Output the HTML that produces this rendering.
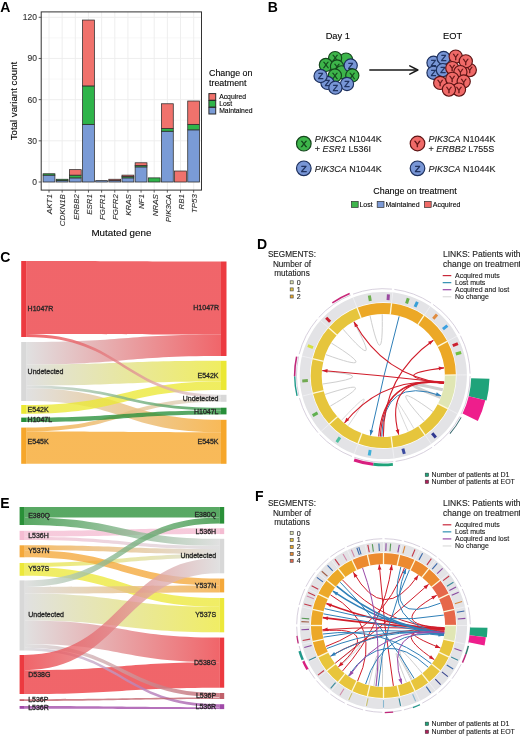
<!DOCTYPE html>
<html><head><meta charset="utf-8"><title>Figure</title>
<style>html,body{margin:0;padding:0;background:#fff;}svg{display:block;}</style></head><body>
<svg width="520" height="736" viewBox="0 0 520 736" font-family="'Liberation Sans', Arial, sans-serif">
<rect width="520" height="736" fill="#fff"/>
<text x="0.3" y="11.9" font-size="14" fill="#000" font-weight="bold">A</text>
<text x="267.8" y="11.9" font-size="14" fill="#000" font-weight="bold">B</text>
<text x="0.2" y="262.3" font-size="14" fill="#000" font-weight="bold">C</text>
<text x="257" y="248.5" font-size="14" fill="#000" font-weight="bold">D</text>
<text x="0.2" y="507.6" font-size="14" fill="#000" font-weight="bold">E</text>
<text x="255" y="500.8" font-size="14" fill="#000" font-weight="bold">F</text>
<g stroke="#ececec" fill="none">
<line x1="41.2" x2="201.5" y1="161.41" y2="161.41" stroke-width="0.45"/>
<line x1="41.2" x2="201.5" y1="120.24" y2="120.24" stroke-width="0.45"/>
<line x1="41.2" x2="201.5" y1="79.06" y2="79.06" stroke-width="0.45"/>
<line x1="41.2" x2="201.5" y1="37.89" y2="37.89" stroke-width="0.45"/>
<line x1="41.2" x2="201.5" y1="182" y2="182" stroke-width="0.9"/>
<line x1="41.2" x2="201.5" y1="140.82" y2="140.82" stroke-width="0.9"/>
<line x1="41.2" x2="201.5" y1="99.65" y2="99.65" stroke-width="0.9"/>
<line x1="41.2" x2="201.5" y1="58.47" y2="58.47" stroke-width="0.9"/>
<line x1="41.2" x2="201.5" y1="17.3" y2="17.3" stroke-width="0.9"/>
<line x1="49" x2="49" y1="11.9" y2="190.1" stroke-width="0.9"/>
<line x1="62.15" x2="62.15" y1="11.9" y2="190.1" stroke-width="0.9"/>
<line x1="75.3" x2="75.3" y1="11.9" y2="190.1" stroke-width="0.9"/>
<line x1="88.45" x2="88.45" y1="11.9" y2="190.1" stroke-width="0.9"/>
<line x1="101.6" x2="101.6" y1="11.9" y2="190.1" stroke-width="0.9"/>
<line x1="114.75" x2="114.75" y1="11.9" y2="190.1" stroke-width="0.9"/>
<line x1="127.9" x2="127.9" y1="11.9" y2="190.1" stroke-width="0.9"/>
<line x1="141.05" x2="141.05" y1="11.9" y2="190.1" stroke-width="0.9"/>
<line x1="154.2" x2="154.2" y1="11.9" y2="190.1" stroke-width="0.9"/>
<line x1="167.35" x2="167.35" y1="11.9" y2="190.1" stroke-width="0.9"/>
<line x1="180.5" x2="180.5" y1="11.9" y2="190.1" stroke-width="0.9"/>
<line x1="193.65" x2="193.65" y1="11.9" y2="190.1" stroke-width="0.9"/>
</g>
<g stroke="#2b2b2b" stroke-width="0.75">
<rect x="43.08" y="175.14" width="11.84" height="6.86" fill="#7a9bd6"/>
<rect x="43.08" y="173.76" width="11.84" height="1.37" fill="#2fb44a"/>
<rect x="56.23" y="180.63" width="11.84" height="1.37" fill="#7a9bd6"/>
<rect x="56.23" y="179.25" width="11.84" height="1.37" fill="#2fb44a"/>
<rect x="69.38" y="177.88" width="11.84" height="4.12" fill="#7a9bd6"/>
<rect x="69.38" y="175.14" width="11.84" height="2.75" fill="#2fb44a"/>
<rect x="69.38" y="169.65" width="11.84" height="5.49" fill="#f0726c"/>
<rect x="82.53" y="124.35" width="11.84" height="57.65" fill="#7a9bd6"/>
<rect x="82.53" y="85.92" width="11.84" height="38.43" fill="#2fb44a"/>
<rect x="82.53" y="20.04" width="11.84" height="65.88" fill="#f0726c"/>
<rect x="95.68" y="180.63" width="11.84" height="1.37" fill="#7a9bd6"/>
<rect x="108.83" y="180.63" width="11.84" height="1.37" fill="#7a9bd6"/>
<rect x="108.83" y="179.25" width="11.84" height="1.37" fill="#f0726c"/>
<rect x="121.98" y="177.88" width="11.84" height="4.12" fill="#7a9bd6"/>
<rect x="121.98" y="176.51" width="11.84" height="1.37" fill="#2fb44a"/>
<rect x="121.98" y="175.14" width="11.84" height="1.37" fill="#f0726c"/>
<rect x="135.13" y="166.9" width="11.84" height="15.1" fill="#7a9bd6"/>
<rect x="135.13" y="165.53" width="11.84" height="1.37" fill="#2fb44a"/>
<rect x="135.13" y="162.78" width="11.84" height="2.75" fill="#f0726c"/>
<rect x="148.28" y="177.88" width="11.84" height="4.12" fill="#2fb44a"/>
<rect x="161.43" y="131.22" width="11.84" height="50.78" fill="#7a9bd6"/>
<rect x="161.43" y="128.47" width="11.84" height="2.75" fill="#2fb44a"/>
<rect x="161.43" y="103.77" width="11.84" height="24.71" fill="#f0726c"/>
<rect x="174.58" y="171.02" width="11.84" height="10.98" fill="#f0726c"/>
<rect x="187.73" y="129.84" width="11.84" height="52.16" fill="#7a9bd6"/>
<rect x="187.73" y="124.35" width="11.84" height="5.49" fill="#2fb44a"/>
<rect x="187.73" y="101.02" width="11.84" height="23.33" fill="#f0726c"/>
</g>
<rect x="41.2" y="11.9" width="160.3" height="178.2" fill="none" stroke="#333" stroke-width="1"/>
<g stroke="#333" stroke-width="0.8">
<line x1="38.7" x2="41.2" y1="182" y2="182"/>
<line x1="38.7" x2="41.2" y1="140.82" y2="140.82"/>
<line x1="38.7" x2="41.2" y1="99.65" y2="99.65"/>
<line x1="38.7" x2="41.2" y1="58.47" y2="58.47"/>
<line x1="38.7" x2="41.2" y1="17.3" y2="17.3"/>
<line x1="49" x2="49" y1="190.1" y2="192.6"/>
<line x1="62.15" x2="62.15" y1="190.1" y2="192.6"/>
<line x1="75.3" x2="75.3" y1="190.1" y2="192.6"/>
<line x1="88.45" x2="88.45" y1="190.1" y2="192.6"/>
<line x1="101.6" x2="101.6" y1="190.1" y2="192.6"/>
<line x1="114.75" x2="114.75" y1="190.1" y2="192.6"/>
<line x1="127.9" x2="127.9" y1="190.1" y2="192.6"/>
<line x1="141.05" x2="141.05" y1="190.1" y2="192.6"/>
<line x1="154.2" x2="154.2" y1="190.1" y2="192.6"/>
<line x1="167.35" x2="167.35" y1="190.1" y2="192.6"/>
<line x1="180.5" x2="180.5" y1="190.1" y2="192.6"/>
<line x1="193.65" x2="193.65" y1="190.1" y2="192.6"/>
</g>
<text x="37" y="185" font-size="8.5" text-anchor="end" fill="#333" stroke="#333" stroke-width="0.12">0</text>
<text x="37" y="143.82" font-size="8.5" text-anchor="end" fill="#333" stroke="#333" stroke-width="0.12">30</text>
<text x="37" y="102.65" font-size="8.5" text-anchor="end" fill="#333" stroke="#333" stroke-width="0.12">60</text>
<text x="37" y="61.47" font-size="8.5" text-anchor="end" fill="#333" stroke="#333" stroke-width="0.12">90</text>
<text x="37" y="20.3" font-size="8.5" text-anchor="end" fill="#333" stroke="#333" stroke-width="0.12">120</text>
<text x="0" y="0" font-size="7.9" text-anchor="end" fill="#333" font-style="italic" transform="translate(52.3,194.2) rotate(-90)" stroke="#333" stroke-width="0.12">AKT1</text>
<text x="0" y="0" font-size="7.9" text-anchor="end" fill="#333" font-style="italic" transform="translate(65.45,194.2) rotate(-90)" stroke="#333" stroke-width="0.12">CDKN1B</text>
<text x="0" y="0" font-size="7.9" text-anchor="end" fill="#333" font-style="italic" transform="translate(78.6,194.2) rotate(-90)" stroke="#333" stroke-width="0.12">ERBB2</text>
<text x="0" y="0" font-size="7.9" text-anchor="end" fill="#333" font-style="italic" transform="translate(91.75,194.2) rotate(-90)" stroke="#333" stroke-width="0.12">ESR1</text>
<text x="0" y="0" font-size="7.9" text-anchor="end" fill="#333" font-style="italic" transform="translate(104.9,194.2) rotate(-90)" stroke="#333" stroke-width="0.12">FGFR1</text>
<text x="0" y="0" font-size="7.9" text-anchor="end" fill="#333" font-style="italic" transform="translate(118.05,194.2) rotate(-90)" stroke="#333" stroke-width="0.12">FGFR2</text>
<text x="0" y="0" font-size="7.9" text-anchor="end" fill="#333" font-style="italic" transform="translate(131.2,194.2) rotate(-90)" stroke="#333" stroke-width="0.12">KRAS</text>
<text x="0" y="0" font-size="7.9" text-anchor="end" fill="#333" font-style="italic" transform="translate(144.35,194.2) rotate(-90)" stroke="#333" stroke-width="0.12">NF1</text>
<text x="0" y="0" font-size="7.9" text-anchor="end" fill="#333" font-style="italic" transform="translate(157.5,194.2) rotate(-90)" stroke="#333" stroke-width="0.12">NRAS</text>
<text x="0" y="0" font-size="7.9" text-anchor="end" fill="#333" font-style="italic" transform="translate(170.65,194.2) rotate(-90)" stroke="#333" stroke-width="0.12">PIK3CA</text>
<text x="0" y="0" font-size="7.9" text-anchor="end" fill="#333" font-style="italic" transform="translate(183.8,194.2) rotate(-90)" stroke="#333" stroke-width="0.12">RB1</text>
<text x="0" y="0" font-size="7.9" text-anchor="end" fill="#333" font-style="italic" transform="translate(196.95,194.2) rotate(-90)" stroke="#333" stroke-width="0.12">TP53</text>
<text x="121.4" y="236.4" font-size="9.8" text-anchor="middle" stroke="#1a1a1a" stroke-width="0.12">Mutated gene</text>
<text x="0" y="0" font-size="9.7" text-anchor="middle" transform="translate(17.1,101) rotate(-90)" stroke="#1a1a1a" stroke-width="0.12">Total variant count</text>
<text x="209" y="75.6" font-size="8.9" stroke="#1a1a1a" stroke-width="0.12">Change on</text>
<text x="209" y="86.2" font-size="8.9" stroke="#1a1a1a" stroke-width="0.12">treatment</text>
<g stroke="#2b2b2b" stroke-width="1.0">
<rect x="208.9" y="93.6" width="6.8" height="6.6" fill="#f0726c"/>
<rect x="208.9" y="100.5" width="6.8" height="6.6" fill="#2fb44a"/>
<rect x="208.9" y="107.4" width="6.8" height="6.6" fill="#7a9bd6"/>
</g>
<text x="219.2" y="99.3" font-size="6.8" stroke="#1a1a1a" stroke-width="0.12">Acquired</text>
<text x="219.2" y="106.2" font-size="6.8" stroke="#1a1a1a" stroke-width="0.12">Lost</text>
<text x="219.2" y="113.1" font-size="6.8" stroke="#1a1a1a" stroke-width="0.12">Maintained</text>
<text x="337.8" y="39.2" font-size="9.3" text-anchor="middle" stroke="#1a1a1a" stroke-width="0.12">Day 1</text>
<text x="452.6" y="39" font-size="9.3" text-anchor="middle" stroke="#1a1a1a" stroke-width="0.12">EOT</text>
<circle cx="346" cy="59.6" r="6.6" fill="#3db54a" stroke="#14461c" stroke-width="1.15"/>
<circle cx="335.1" cy="58.1" r="6.6" fill="#3db54a" stroke="#14461c" stroke-width="1.15"/>
<text x="335.1" y="61.3" font-size="8.8" text-anchor="middle" fill="#14461c" stroke="#14461c" stroke-width="0.35">X</text>
<circle cx="325.9" cy="64.9" r="6.6" fill="#3db54a" stroke="#14461c" stroke-width="1.15"/>
<text x="325.9" y="68.1" font-size="8.8" text-anchor="middle" fill="#14461c" stroke="#14461c" stroke-width="0.35">X</text>
<circle cx="337" cy="66.5" r="6.6" fill="#3db54a" stroke="#14461c" stroke-width="1.15"/>
<text x="337" y="69.7" font-size="8.8" text-anchor="middle" fill="#14461c" stroke="#14461c" stroke-width="0.35">X</text>
<circle cx="341.7" cy="72.3" r="6.6" fill="#3db54a" stroke="#14461c" stroke-width="1.15"/>
<circle cx="350.7" cy="65.5" r="6.6" fill="#7896d6" stroke="#1c2f5c" stroke-width="1.15"/>
<text x="350.7" y="68.7" font-size="8.8" text-anchor="middle" fill="#1c2f5c" stroke="#1c2f5c" stroke-width="0.35">Z</text>
<circle cx="352.3" cy="75.5" r="6.6" fill="#3db54a" stroke="#14461c" stroke-width="1.15"/>
<text x="352.3" y="78.7" font-size="8.8" text-anchor="middle" fill="#14461c" stroke="#14461c" stroke-width="0.35">X</text>
<circle cx="334.9" cy="75.5" r="6.6" fill="#3db54a" stroke="#14461c" stroke-width="1.15"/>
<text x="334.9" y="78.7" font-size="8.8" text-anchor="middle" fill="#14461c" stroke="#14461c" stroke-width="0.35">X</text>
<circle cx="327.5" cy="82.9" r="6.6" fill="#7896d6" stroke="#1c2f5c" stroke-width="1.15"/>
<text x="327.5" y="86.1" font-size="8.8" text-anchor="middle" fill="#1c2f5c" stroke="#1c2f5c" stroke-width="0.35">Z</text>
<circle cx="347" cy="84" r="6.6" fill="#7896d6" stroke="#1c2f5c" stroke-width="1.15"/>
<text x="347" y="87.2" font-size="8.8" text-anchor="middle" fill="#1c2f5c" stroke="#1c2f5c" stroke-width="0.35">Z</text>
<circle cx="320.6" cy="76" r="6.6" fill="#7896d6" stroke="#1c2f5c" stroke-width="1.15"/>
<text x="320.6" y="79.2" font-size="8.8" text-anchor="middle" fill="#1c2f5c" stroke="#1c2f5c" stroke-width="0.35">Z</text>
<circle cx="335.4" cy="87.7" r="6.6" fill="#7896d6" stroke="#1c2f5c" stroke-width="1.15"/>
<text x="335.4" y="90.9" font-size="8.8" text-anchor="middle" fill="#1c2f5c" stroke="#1c2f5c" stroke-width="0.35">Z</text>
<circle cx="433.5" cy="62.7" r="6.6" fill="#7896d6" stroke="#1c2f5c" stroke-width="1.15"/>
<text x="433.5" y="65.9" font-size="8.8" text-anchor="middle" fill="#1c2f5c" stroke="#1c2f5c" stroke-width="0.35">Z</text>
<circle cx="443.6" cy="58" r="6.6" fill="#7896d6" stroke="#1c2f5c" stroke-width="1.15"/>
<text x="443.6" y="61.2" font-size="8.8" text-anchor="middle" fill="#1c2f5c" stroke="#1c2f5c" stroke-width="0.35">Z</text>
<circle cx="433.5" cy="72.8" r="6.6" fill="#7896d6" stroke="#1c2f5c" stroke-width="1.15"/>
<text x="433.5" y="76" font-size="8.8" text-anchor="middle" fill="#1c2f5c" stroke="#1c2f5c" stroke-width="0.35">Z</text>
<circle cx="442.9" cy="70.1" r="6.6" fill="#7896d6" stroke="#1c2f5c" stroke-width="1.15"/>
<text x="442.9" y="73.3" font-size="8.8" text-anchor="middle" fill="#1c2f5c" stroke="#1c2f5c" stroke-width="0.35">Z</text>
<circle cx="455.7" cy="56.6" r="6.6" fill="#f06a68" stroke="#5e1414" stroke-width="1.15"/>
<text x="455.7" y="59.8" font-size="8.8" text-anchor="middle" fill="#5e1414" stroke="#5e1414" stroke-width="0.35">Y</text>
<circle cx="469.8" cy="70.1" r="6.6" fill="#f06a68" stroke="#5e1414" stroke-width="1.15"/>
<text x="469.8" y="73.3" font-size="8.8" text-anchor="middle" fill="#5e1414" stroke="#5e1414" stroke-width="0.35">Y</text>
<circle cx="465.8" cy="61.3" r="6.6" fill="#f06a68" stroke="#5e1414" stroke-width="1.15"/>
<text x="465.8" y="64.5" font-size="8.8" text-anchor="middle" fill="#5e1414" stroke="#5e1414" stroke-width="0.35">Y</text>
<circle cx="452.3" cy="68.1" r="6.6" fill="#f06a68" stroke="#5e1414" stroke-width="1.15"/>
<text x="452.3" y="71.3" font-size="8.8" text-anchor="middle" fill="#5e1414" stroke="#5e1414" stroke-width="0.35">Y</text>
<circle cx="460.4" cy="72.1" r="6.6" fill="#f06a68" stroke="#5e1414" stroke-width="1.15"/>
<text x="460.4" y="75.3" font-size="8.8" text-anchor="middle" fill="#5e1414" stroke="#5e1414" stroke-width="0.35">Y</text>
<circle cx="440.2" cy="82.9" r="6.6" fill="#f06a68" stroke="#5e1414" stroke-width="1.15"/>
<text x="440.2" y="86.1" font-size="8.8" text-anchor="middle" fill="#5e1414" stroke="#5e1414" stroke-width="0.35">Y</text>
<circle cx="452.3" cy="78.8" r="6.6" fill="#f06a68" stroke="#5e1414" stroke-width="1.15"/>
<text x="452.3" y="82" font-size="8.8" text-anchor="middle" fill="#5e1414" stroke="#5e1414" stroke-width="0.35">Y</text>
<circle cx="463.7" cy="81.5" r="6.6" fill="#f06a68" stroke="#5e1414" stroke-width="1.15"/>
<text x="463.7" y="84.7" font-size="8.8" text-anchor="middle" fill="#5e1414" stroke="#5e1414" stroke-width="0.35">Y</text>
<circle cx="459" cy="89.6" r="6.6" fill="#f06a68" stroke="#5e1414" stroke-width="1.15"/>
<text x="459" y="92.8" font-size="8.8" text-anchor="middle" fill="#5e1414" stroke="#5e1414" stroke-width="0.35">Y</text>
<circle cx="448.9" cy="89.6" r="6.6" fill="#f06a68" stroke="#5e1414" stroke-width="1.15"/>
<text x="448.9" y="92.8" font-size="8.8" text-anchor="middle" fill="#5e1414" stroke="#5e1414" stroke-width="0.35">Y</text>
<g stroke="#1a1a1a" stroke-width="1.5" fill="none" stroke-linecap="round" stroke-linejoin="round"><line x1="369.8" y1="70" x2="417.5" y2="70"/><polyline points="409.8,65.8 417.8,70 409.8,74.2"/></g>
<circle cx="303.8" cy="143.7" r="7.3" fill="#3db54a" stroke="#14461c" stroke-width="1.2"/>
<text x="303.8" y="147.1" font-size="9.4" text-anchor="middle" fill="#14461c" stroke="#14461c" stroke-width="0.45">X</text>
<circle cx="303.8" cy="168.3" r="7.3" fill="#7896d6" stroke="#1c2f5c" stroke-width="1.2"/>
<text x="303.8" y="171.7" font-size="9.4" text-anchor="middle" fill="#1c2f5c" stroke="#1c2f5c" stroke-width="0.45">Z</text>
<circle cx="417.5" cy="143.5" r="7.3" fill="#f06a68" stroke="#5e1414" stroke-width="1.2"/>
<text x="417.5" y="146.9" font-size="9.4" text-anchor="middle" fill="#5e1414" stroke="#5e1414" stroke-width="0.45">Y</text>
<circle cx="417.5" cy="168.3" r="7.3" fill="#7896d6" stroke="#1c2f5c" stroke-width="1.2"/>
<text x="417.5" y="171.7" font-size="9.4" text-anchor="middle" fill="#1c2f5c" stroke="#1c2f5c" stroke-width="0.45">Z</text>
<text x="314.8" y="141.6" font-size="9" fill="#222" stroke="#222" stroke-width="0.12"><tspan font-style="italic">PIK3CA</tspan> N1044K</text>
<text x="314.8" y="152.3" font-size="9" fill="#222" stroke="#222" stroke-width="0.12">+ <tspan font-style="italic">ESR1</tspan> L536I</text>
<text x="314.8" y="171.8" font-size="9" fill="#222" stroke="#222" stroke-width="0.12"><tspan font-style="italic">PIK3CA</tspan> N1044K</text>
<text x="428.4" y="141.6" font-size="9" fill="#222" stroke="#222" stroke-width="0.12"><tspan font-style="italic">PIK3CA</tspan> N1044K</text>
<text x="428.4" y="152.3" font-size="9" fill="#222" stroke="#222" stroke-width="0.12">+ <tspan font-style="italic">ERBB2</tspan> L755S</text>
<text x="428.4" y="171.8" font-size="9" fill="#222" stroke="#222" stroke-width="0.12"><tspan font-style="italic">PIK3CA</tspan> N1044K</text>
<text x="415" y="193.6" font-size="8.9" text-anchor="middle" stroke="#1a1a1a" stroke-width="0.12">Change on treatment</text>
<g stroke="#333" stroke-width="0.7">
<rect x="351.4" y="201.4" width="6.8" height="6.1" fill="#3fb54c"/>
<rect x="377.2" y="201.4" width="6.8" height="6.1" fill="#7c9ad6"/>
<rect x="424.4" y="201.4" width="6.8" height="6.1" fill="#f06a66"/>
</g>
<text x="359.4" y="206.9" font-size="7" stroke="#1a1a1a" stroke-width="0.12">Lost</text>
<text x="385.4" y="206.9" font-size="7" stroke="#1a1a1a" stroke-width="0.12">Maintained</text>
<text x="432.8" y="206.9" font-size="7" stroke="#1a1a1a" stroke-width="0.12">Acquired</text>
<g>
<linearGradient id="g1" gradientUnits="userSpaceOnUse" x1="26.6" y1="0" x2="221" y2="0"><stop offset="0" stop-color="#ec3a40"/><stop offset="1" stop-color="#ec3a40"/></linearGradient>
<path d="M26.6,261 C123.8,261 123.8,261.5 221,261.5 L221,334.5 C123.8,334.5 123.8,334 26.6,334Z" fill="url(#g1)" fill-opacity="0.78"/>
<linearGradient id="g2" gradientUnits="userSpaceOnUse" x1="26.6" y1="0" x2="221" y2="0"><stop offset="0" stop-color="#d8d8d8"/><stop offset="1" stop-color="#ec3a40"/></linearGradient>
<path d="M26.6,342 C123.8,342 123.8,334.5 221,334.5 L221,356 C123.8,356 123.8,364.5 26.6,364.5Z" fill="url(#g2)" fill-opacity="0.78"/>
<linearGradient id="g3" gradientUnits="userSpaceOnUse" x1="26.6" y1="0" x2="221" y2="0"><stop offset="0" stop-color="#d8d8d8"/><stop offset="1" stop-color="#ebe834"/></linearGradient>
<path d="M26.6,364.5 C123.8,364.5 123.8,360.8 221,360.8 L221,381.5 C123.8,381.5 123.8,385.5 26.6,385.5Z" fill="url(#g3)" fill-opacity="0.78"/>
<linearGradient id="g4" gradientUnits="userSpaceOnUse" x1="26.6" y1="0" x2="221" y2="0"><stop offset="0" stop-color="#f6a62a"/><stop offset="1" stop-color="#f6a62a"/></linearGradient>
<path d="M26.6,431.6 C123.8,431.6 123.8,432.3 221,432.3 L221,463.8 C123.8,463.8 123.8,463.8 26.6,463.8Z" fill="url(#g4)" fill-opacity="0.78"/>
<linearGradient id="g5" gradientUnits="userSpaceOnUse" x1="26.6" y1="0" x2="221" y2="0"><stop offset="0" stop-color="#d8d8d8"/><stop offset="1" stop-color="#f6a62a"/></linearGradient>
<path d="M26.6,388.3 C123.8,388.3 123.8,419.8 221,419.8 L221,432.3 C123.8,432.3 123.8,401 26.6,401Z" fill="url(#g5)" fill-opacity="0.78"/>
<linearGradient id="g6" gradientUnits="userSpaceOnUse" x1="26.6" y1="0" x2="221" y2="0"><stop offset="0" stop-color="#ebe834"/><stop offset="1" stop-color="#ebe834"/></linearGradient>
<path d="M26.6,405 C123.8,405 123.8,381.5 221,381.5 L221,390 C123.8,390 123.8,413.8 26.6,413.8Z" fill="url(#g6)" fill-opacity="0.78"/>
<linearGradient id="g7" gradientUnits="userSpaceOnUse" x1="26.6" y1="0" x2="221" y2="0"><stop offset="0" stop-color="#f6a62a"/><stop offset="1" stop-color="#d8d8d8"/></linearGradient>
<path d="M26.6,427.6 C123.8,427.6 123.8,397.8 221,397.8 L221,401.8 C123.8,401.8 123.8,431.6 26.6,431.6Z" fill="url(#g7)" fill-opacity="0.78"/>
<linearGradient id="g8" gradientUnits="userSpaceOnUse" x1="26.6" y1="0" x2="221" y2="0"><stop offset="0" stop-color="#d8d8d8"/><stop offset="1" stop-color="#288f3a"/></linearGradient>
<path d="M26.6,385.5 C123.8,385.5 123.8,407.7 221,407.7 L221,410.5 C123.8,410.5 123.8,388.3 26.6,388.3Z" fill="url(#g8)" fill-opacity="0.78"/>
<linearGradient id="g9" gradientUnits="userSpaceOnUse" x1="26.6" y1="0" x2="221" y2="0"><stop offset="0" stop-color="#288f3a"/><stop offset="1" stop-color="#288f3a"/></linearGradient>
<path d="M26.6,417.6 C123.8,417.6 123.8,410.5 221,410.5 L221,414.4 C123.8,414.4 123.8,422 26.6,422Z" fill="url(#g9)" fill-opacity="0.78"/>
<linearGradient id="g10" gradientUnits="userSpaceOnUse" x1="26.6" y1="0" x2="221" y2="0"><stop offset="0" stop-color="#ec3a40"/><stop offset="1" stop-color="#d8d8d8"/></linearGradient>
<path d="M26.6,334 C123.8,334 123.8,394.8 221,394.8 L221,397.8 C123.8,397.8 123.8,337 26.6,337Z" fill="url(#g10)" fill-opacity="0.78"/>
</g>
<rect x="21.2" y="261" width="5.4" height="76" fill="#ec3a40"/>
<rect x="21.2" y="342" width="5.4" height="59" fill="#d8d8d8"/>
<rect x="21.2" y="405" width="5.4" height="8.8" fill="#ebe834"/>
<rect x="21.2" y="417.6" width="5.4" height="4.4" fill="#288f3a"/>
<rect x="21.2" y="427.6" width="5.4" height="36.2" fill="#f6a62a"/>
<rect x="221" y="261.5" width="5.5" height="94.5" fill="#ec3a40"/>
<rect x="221" y="360.8" width="5.5" height="29.2" fill="#ebe834"/>
<rect x="221" y="394.8" width="5.5" height="7" fill="#d8d8d8"/>
<rect x="221" y="407.7" width="5.5" height="6.7" fill="#288f3a"/>
<rect x="221" y="419.8" width="5.5" height="44" fill="#f6a62a"/>
<text x="27.6" y="310.6" font-size="7" fill="#262626" stroke="#262626" stroke-width="0.3">H1047R</text>
<text x="27.6" y="373.8" font-size="7" fill="#262626" stroke="#262626" stroke-width="0.3">Undetected</text>
<text x="27.6" y="411.9" font-size="7" fill="#262626" stroke="#262626" stroke-width="0.3">E542K</text>
<text x="27.6" y="422.3" font-size="7" fill="#262626" stroke="#262626" stroke-width="0.3">H1047L</text>
<text x="27.6" y="443.8" font-size="7" fill="#262626" stroke="#262626" stroke-width="0.3">E545K</text>
<text x="219" y="310.3" font-size="7" text-anchor="end" fill="#262626" stroke="#262626" stroke-width="0.3">H1047R</text>
<text x="218.5" y="377.5" font-size="7" text-anchor="end" fill="#262626" stroke="#262626" stroke-width="0.3">E542K</text>
<text x="218.5" y="400.8" font-size="7" text-anchor="end" fill="#262626" stroke="#262626" stroke-width="0.3">Undetected</text>
<text x="218.5" y="413.5" font-size="7" text-anchor="end" fill="#262626" stroke="#262626" stroke-width="0.3">H1047L</text>
<text x="218.5" y="443.5" font-size="7" text-anchor="end" fill="#262626" stroke="#262626" stroke-width="0.3">E545K</text>
<g>
<linearGradient id="g11" gradientUnits="userSpaceOnUse" x1="24.7" y1="0" x2="219.4" y2="0"><stop offset="0" stop-color="#2a9038"/><stop offset="1" stop-color="#2a9038"/></linearGradient>
<path d="M24.7,507 C122.05,507 122.05,507 219.4,507 L219.4,517.4 C122.05,517.4 122.05,517.4 24.7,517.4Z" fill="url(#g11)" fill-opacity="0.78"/>
<linearGradient id="g12" gradientUnits="userSpaceOnUse" x1="24.7" y1="0" x2="219.4" y2="0"><stop offset="0" stop-color="#f4bcd2"/><stop offset="1" stop-color="#f4bcd2"/></linearGradient>
<path d="M24.7,530.8 C122.05,530.8 122.05,528.2 219.4,528.2 L219.4,534.1 C122.05,534.1 122.05,536.7 24.7,536.7Z" fill="url(#g12)" fill-opacity="0.78"/>
<linearGradient id="g13" gradientUnits="userSpaceOnUse" x1="24.7" y1="0" x2="219.4" y2="0"><stop offset="0" stop-color="#d8d8d8"/><stop offset="1" stop-color="#ece83a"/></linearGradient>
<path d="M24.7,593.5 C122.05,593.5 122.05,606.8 219.4,606.8 L219.4,632.3 C122.05,632.3 122.05,620.5 24.7,620.5Z" fill="url(#g13)" fill-opacity="0.78"/>
<linearGradient id="g14" gradientUnits="userSpaceOnUse" x1="24.7" y1="0" x2="219.4" y2="0"><stop offset="0" stop-color="#d8d8d8"/><stop offset="1" stop-color="#ec3a40"/></linearGradient>
<path d="M24.7,620.5 C122.05,620.5 122.05,637.6 219.4,637.6 L219.4,662.3 C122.05,662.3 122.05,644 24.7,644Z" fill="url(#g14)" fill-opacity="0.78"/>
<linearGradient id="g15" gradientUnits="userSpaceOnUse" x1="24.7" y1="0" x2="219.4" y2="0"><stop offset="0" stop-color="#ec3a40"/><stop offset="1" stop-color="#ec3a40"/></linearGradient>
<path d="M24.7,670.2 C122.05,670.2 122.05,662.3 219.4,662.3 L219.4,687.7 C122.05,687.7 122.05,694 24.7,694Z" fill="url(#g15)" fill-opacity="0.78"/>
<linearGradient id="g16" gradientUnits="userSpaceOnUse" x1="24.7" y1="0" x2="219.4" y2="0"><stop offset="0" stop-color="#f4bcd2"/><stop offset="1" stop-color="#d8d8d8"/></linearGradient>
<path d="M24.7,536.7 C122.05,536.7 122.05,545.8 219.4,545.8 L219.4,549.1 C122.05,549.1 122.05,540 24.7,540Z" fill="url(#g16)" fill-opacity="0.78"/>
<linearGradient id="g17" gradientUnits="userSpaceOnUse" x1="24.7" y1="0" x2="219.4" y2="0"><stop offset="0" stop-color="#f4a83a"/><stop offset="1" stop-color="#d8d8d8"/></linearGradient>
<path d="M24.7,545.3 C122.05,545.3 122.05,549.1 219.4,549.1 L219.4,554.1 C122.05,554.1 122.05,550.3 24.7,550.3Z" fill="url(#g17)" fill-opacity="0.78"/>
<linearGradient id="g18" gradientUnits="userSpaceOnUse" x1="24.7" y1="0" x2="219.4" y2="0"><stop offset="0" stop-color="#ece83a"/><stop offset="1" stop-color="#d8d8d8"/></linearGradient>
<path d="M24.7,563 C122.05,563 122.05,554.1 219.4,554.1 L219.4,558.1 C122.05,558.1 122.05,567 24.7,567Z" fill="url(#g18)" fill-opacity="0.78"/>
<linearGradient id="g19" gradientUnits="userSpaceOnUse" x1="24.7" y1="0" x2="219.4" y2="0"><stop offset="0" stop-color="#f4a83a"/><stop offset="1" stop-color="#f4a83a"/></linearGradient>
<path d="M24.7,550.3 C122.05,550.3 122.05,578.6 219.4,578.6 L219.4,585.6 C122.05,585.6 122.05,557.3 24.7,557.3Z" fill="url(#g19)" fill-opacity="0.78"/>
<linearGradient id="g20" gradientUnits="userSpaceOnUse" x1="24.7" y1="0" x2="219.4" y2="0"><stop offset="0" stop-color="#ece83a"/><stop offset="1" stop-color="#ece83a"/></linearGradient>
<path d="M24.7,567 C122.05,567 122.05,598 219.4,598 L219.4,606.8 C122.05,606.8 122.05,575.8 24.7,575.8Z" fill="url(#g20)" fill-opacity="0.78"/>
<linearGradient id="g21" gradientUnits="userSpaceOnUse" x1="24.7" y1="0" x2="219.4" y2="0"><stop offset="0" stop-color="#d8d8d8"/><stop offset="1" stop-color="#f4a83a"/></linearGradient>
<path d="M24.7,587 C122.05,587 122.05,585.6 219.4,585.6 L219.4,592.4 C122.05,592.4 122.05,593.5 24.7,593.5Z" fill="url(#g21)" fill-opacity="0.78"/>
<linearGradient id="g22" gradientUnits="userSpaceOnUse" x1="24.7" y1="0" x2="219.4" y2="0"><stop offset="0" stop-color="#2a9038"/><stop offset="1" stop-color="#d8d8d8"/></linearGradient>
<path d="M24.7,517.4 C122.05,517.4 122.05,538.8 219.4,538.8 L219.4,545.8 C122.05,545.8 122.05,525 24.7,525Z" fill="url(#g22)" fill-opacity="0.78"/>
<linearGradient id="g23" gradientUnits="userSpaceOnUse" x1="24.7" y1="0" x2="219.4" y2="0"><stop offset="0" stop-color="#d8d8d8"/><stop offset="1" stop-color="#2a9038"/></linearGradient>
<path d="M24.7,580.4 C122.05,580.4 122.05,517.4 219.4,517.4 L219.4,523.6 C122.05,523.6 122.05,587 24.7,587Z" fill="url(#g23)" fill-opacity="0.78"/>
<linearGradient id="g24" gradientUnits="userSpaceOnUse" x1="24.7" y1="0" x2="219.4" y2="0"><stop offset="0" stop-color="#d8d8d8"/><stop offset="1" stop-color="#c0606a"/></linearGradient>
<path d="M24.7,644 C122.05,644 122.05,693 219.4,693 L219.4,697 C122.05,697 122.05,647.7 24.7,647.7Z" fill="url(#g24)" fill-opacity="0.78"/>
<linearGradient id="g25" gradientUnits="userSpaceOnUse" x1="24.7" y1="0" x2="219.4" y2="0"><stop offset="0" stop-color="#d8d8d8"/><stop offset="1" stop-color="#a04aa8"/></linearGradient>
<path d="M24.7,647.7 C122.05,647.7 122.05,704.2 219.4,704.2 L219.4,707 C122.05,707 122.05,650.5 24.7,650.5Z" fill="url(#g25)" fill-opacity="0.78"/>
<linearGradient id="g26" gradientUnits="userSpaceOnUse" x1="24.7" y1="0" x2="219.4" y2="0"><stop offset="0" stop-color="#ec3a40"/><stop offset="1" stop-color="#d8d8d8"/></linearGradient>
<path d="M24.7,655 C122.05,655 122.05,558.1 219.4,558.1 L219.4,573.3 C122.05,573.3 122.05,670.2 24.7,670.2Z" fill="url(#g26)" fill-opacity="0.78"/>
<linearGradient id="g27" gradientUnits="userSpaceOnUse" x1="24.7" y1="0" x2="219.4" y2="0"><stop offset="0" stop-color="#c0606a"/><stop offset="1" stop-color="#c0606a"/></linearGradient>
<path d="M24.7,699.2 C122.05,699.2 122.05,697.5 219.4,697.5 L219.4,699 C122.05,699 122.05,701 24.7,701Z" fill="url(#g27)" fill-opacity="0.78"/>
<linearGradient id="g28" gradientUnits="userSpaceOnUse" x1="24.7" y1="0" x2="219.4" y2="0"><stop offset="0" stop-color="#a04aa8"/><stop offset="1" stop-color="#a04aa8"/></linearGradient>
<path d="M24.7,706 C122.05,706 122.05,707.2 219.4,707.2 L219.4,709.1 C122.05,709.1 122.05,708.8 24.7,708.8Z" fill="url(#g28)" fill-opacity="0.78"/>
</g>
<rect x="19.6" y="507" width="5.1" height="18" fill="#2a9038"/>
<rect x="19.6" y="530.8" width="5.1" height="9.2" fill="#f4bcd2"/>
<rect x="19.6" y="545.3" width="5.1" height="12" fill="#f4a83a"/>
<rect x="19.6" y="563" width="5.1" height="12.8" fill="#ece83a"/>
<rect x="19.6" y="580.4" width="5.1" height="70.1" fill="#d8d8d8"/>
<rect x="19.6" y="655" width="5.1" height="39" fill="#ec3a40"/>
<rect x="19.6" y="699.2" width="5.1" height="1.8" fill="#c0606a"/>
<rect x="19.6" y="706" width="5.1" height="2.8" fill="#a04aa8"/>
<rect x="219.4" y="507" width="4.8" height="16.6" fill="#2a9038"/>
<rect x="219.4" y="528.2" width="4.8" height="5.9" fill="#f4bcd2"/>
<rect x="219.4" y="538.8" width="4.8" height="34.5" fill="#d8d8d8"/>
<rect x="219.4" y="578.6" width="4.8" height="13.8" fill="#f4a83a"/>
<rect x="219.4" y="598" width="4.8" height="34.3" fill="#ece83a"/>
<rect x="219.4" y="637.6" width="4.8" height="50.1" fill="#ec3a40"/>
<rect x="219.4" y="693" width="4.8" height="6" fill="#c0606a"/>
<rect x="219.4" y="704.2" width="4.8" height="4.9" fill="#a04aa8"/>
<text x="28.2" y="518.3" font-size="7" fill="#262626" stroke="#262626" stroke-width="0.3">E380Q</text>
<text x="28.2" y="537.9" font-size="7" fill="#262626" stroke="#262626" stroke-width="0.3">L536H</text>
<text x="28.2" y="552.9" font-size="7" fill="#262626" stroke="#262626" stroke-width="0.3">Y537N</text>
<text x="28.2" y="571.3" font-size="7" fill="#262626" stroke="#262626" stroke-width="0.3">Y537S</text>
<text x="28.2" y="616.7" font-size="7" fill="#262626" stroke="#262626" stroke-width="0.3">Undetected</text>
<text x="28.2" y="676.7" font-size="7" fill="#262626" stroke="#262626" stroke-width="0.3">D538G</text>
<text x="28.2" y="702.1" font-size="7" fill="#262626" stroke="#262626" stroke-width="0.3">L536P</text>
<text x="28.2" y="709.7" font-size="7" fill="#262626" stroke="#262626" stroke-width="0.3">L536R</text>
<text x="216.2" y="517" font-size="7" text-anchor="end" fill="#262626" stroke="#262626" stroke-width="0.3">E380Q</text>
<text x="216.2" y="533.5" font-size="7" text-anchor="end" fill="#262626" stroke="#262626" stroke-width="0.3">L536H</text>
<text x="216.2" y="558.2" font-size="7" text-anchor="end" fill="#262626" stroke="#262626" stroke-width="0.3">Undetected</text>
<text x="216.2" y="588" font-size="7" text-anchor="end" fill="#262626" stroke="#262626" stroke-width="0.3">Y537N</text>
<text x="216.2" y="616.8" font-size="7" text-anchor="end" fill="#262626" stroke="#262626" stroke-width="0.3">Y537S</text>
<text x="216.2" y="664.8" font-size="7" text-anchor="end" fill="#262626" stroke="#262626" stroke-width="0.3">D538G</text>
<text x="216.2" y="698.3" font-size="7" text-anchor="end" fill="#262626" stroke="#262626" stroke-width="0.3">L536P</text>
<text x="216.2" y="708.9" font-size="7" text-anchor="end" fill="#262626" stroke="#262626" stroke-width="0.3">L536R</text>
<path d="M383.3,291.9 A83.6,83.6 0 1 1 383.29,291.9 L383.29,302.3 A73.2,73.2 0 1 0 383.3,302.3Z" fill="#e3e3e6"/>
<path d="M391.52,303.37 A72.6,72.6 0 0 1 424.1,315.45 L417.92,324.55 A61.6,61.6 0 0 0 390.27,314.3Z" fill="#eca826"/>
<path d="M424.1,315.45 A72.6,72.6 0 0 1 447.33,341.29 L437.63,346.47 A61.6,61.6 0 0 0 417.92,324.55Z" fill="#eca826"/>
<path d="M447.33,341.29 A72.6,72.6 0 0 1 455.9,374.96 L444.9,375.05 A61.6,61.6 0 0 0 437.63,346.47Z" fill="#eca826"/>
<path d="M455.9,374.96 A72.6,72.6 0 0 1 447.83,408.76 L438.05,403.72 A61.6,61.6 0 0 0 444.9,375.05Z" fill="#e0e6b4"/>
<path d="M447.83,408.76 A72.6,72.6 0 0 1 424.98,434.94 L418.67,425.94 A61.6,61.6 0 0 0 438.05,403.72Z" fill="#e6c53c"/>
<path d="M424.98,434.94 A72.6,72.6 0 0 1 392.58,447.5 L391.18,436.59 A61.6,61.6 0 0 0 418.67,425.94Z" fill="#e6c53c"/>
<path d="M392.58,447.5 A72.6,72.6 0 0 1 358.06,443.57 L361.88,433.26 A61.6,61.6 0 0 0 391.18,436.59Z" fill="#e6c53c"/>
<path d="M358.06,443.57 A72.6,72.6 0 0 1 329.32,424.04 L337.49,416.69 A61.6,61.6 0 0 0 361.88,433.26Z" fill="#e6c53c"/>
<path d="M329.32,424.04 A72.6,72.6 0 0 1 312.94,393.39 L323.6,390.68 A61.6,61.6 0 0 0 337.49,416.69Z" fill="#e6c53c"/>
<path d="M312.94,393.39 A72.6,72.6 0 0 1 312.68,358.65 L323.38,361.2 A61.6,61.6 0 0 0 323.6,390.68Z" fill="#e6c53c"/>
<path d="M312.68,358.65 A72.6,72.6 0 0 1 328.6,327.76 L336.89,334.99 A61.6,61.6 0 0 0 323.38,361.2Z" fill="#e6c53c"/>
<path d="M328.6,327.76 A72.6,72.6 0 0 1 357.06,307.81 L361.03,318.07 A61.6,61.6 0 0 0 336.89,334.99Z" fill="#e6c53c"/>
<path d="M357.06,307.81 A72.6,72.6 0 0 1 391.52,303.37 L390.27,314.3 A61.6,61.6 0 0 0 361.03,318.07Z" fill="#eca826"/>
<g stroke="#fdf8dc" stroke-width="1.3">
<line x1="390.24" y1="314.59" x2="391.55" y2="303.07"/>
<line x1="417.75" y1="324.8" x2="424.27" y2="315.2"/>
<line x1="437.37" y1="346.61" x2="447.6" y2="341.15"/>
<line x1="444.6" y1="375.05" x2="456.2" y2="374.96"/>
<line x1="437.79" y1="403.59" x2="448.1" y2="408.9"/>
<line x1="418.49" y1="425.69" x2="425.15" y2="435.19"/>
<line x1="391.14" y1="436.3" x2="392.62" y2="447.8"/>
<line x1="361.99" y1="432.98" x2="357.95" y2="443.85"/>
<line x1="337.72" y1="416.49" x2="329.09" y2="424.24"/>
<line x1="323.89" y1="390.61" x2="312.65" y2="393.47"/>
<line x1="323.67" y1="361.27" x2="312.39" y2="358.58"/>
<line x1="337.12" y1="335.19" x2="328.38" y2="327.56"/>
<line x1="361.14" y1="318.35" x2="356.95" y2="307.53"/>
</g>
<g stroke="#f4f4f6" stroke-width="0.7">
<line x1="391.59" y1="302.77" x2="392.76" y2="292.44"/>
<line x1="424.44" y1="314.95" x2="430.28" y2="306.35"/>
<line x1="447.86" y1="341" x2="457.04" y2="336.1"/>
<line x1="456.5" y1="374.96" x2="466.9" y2="374.88"/>
<line x1="448.36" y1="409.04" x2="457.61" y2="413.8"/>
<line x1="425.33" y1="435.43" x2="431.3" y2="443.95"/>
<line x1="392.66" y1="448.1" x2="393.99" y2="458.41"/>
<line x1="357.85" y1="444.13" x2="354.23" y2="453.88"/>
<line x1="328.87" y1="424.44" x2="321.14" y2="431.4"/>
<line x1="312.36" y1="393.54" x2="302.28" y2="396.11"/>
<line x1="312.1" y1="358.51" x2="301.98" y2="356.09"/>
<line x1="328.15" y1="327.37" x2="320.32" y2="320.53"/>
<line x1="356.84" y1="307.25" x2="353.08" y2="297.55"/>
</g>
<line x1="388.05" y1="300.05" x2="388.4" y2="294.46" stroke="#9b4aa0" stroke-width="3"/>
<line x1="406.54" y1="303.56" x2="408.26" y2="298.23" stroke="#6ab04c" stroke-width="3"/>
<line x1="415.01" y1="306.87" x2="417.36" y2="301.79" stroke="#3aa0d8" stroke-width="3"/>
<line x1="433.3" y1="318.79" x2="437" y2="314.59" stroke="#e08c40" stroke-width="3"/>
<line x1="442.95" y1="329.06" x2="447.37" y2="325.62" stroke="#3aa0e0" stroke-width="3"/>
<line x1="452.79" y1="345.72" x2="457.93" y2="343.51" stroke="#cc2030" stroke-width="3"/>
<line x1="455.79" y1="354.03" x2="461.16" y2="352.44" stroke="#72c040" stroke-width="3"/>
<line x1="432.2" y1="433.16" x2="435.82" y2="437.43" stroke="#303890" stroke-width="3"/>
<line x1="402.87" y1="448.52" x2="404.32" y2="453.93" stroke="#3a4aa0" stroke-width="3"/>
<line x1="370.17" y1="449.95" x2="369.2" y2="455.47" stroke="#40b0d8" stroke-width="3"/>
<line x1="339.94" y1="437.43" x2="336.73" y2="442.02" stroke="#50c0a0" stroke-width="3"/>
<line x1="317.57" y1="412.84" x2="312.7" y2="415.61" stroke="#60b050" stroke-width="3"/>
<line x1="307.87" y1="380.51" x2="302.28" y2="380.88" stroke="#72aa52" stroke-width="3"/>
<line x1="313.01" y1="347.67" x2="307.8" y2="345.61" stroke="#d4e040" stroke-width="3"/>
<line x1="330.12" y1="321.76" x2="326.18" y2="317.78" stroke="#cc2030" stroke-width="3"/>
<line x1="370.3" y1="301.03" x2="369.34" y2="295.51" stroke="#70b050" stroke-width="3"/>
<g fill="none" stroke="#cdc4d4" stroke-width="0.8">
<path d="M394.33,289.4 A86.8,86.8 0 0 1 431.07,303.03"/>
<path d="M433.08,304.39 A86.8,86.8 0 0 1 459.28,333.53"/>
<path d="M460.42,335.67 A86.8,86.8 0 0 1 470.08,373.65"/>
<path d="M470.1,376.07 A86.8,86.8 0 0 1 461,414.19"/>
<path d="M459.89,416.34 A86.8,86.8 0 0 1 434.12,445.87"/>
<path d="M432.14,447.26 A86.8,86.8 0 0 1 395.6,461.42"/>
<path d="M393.2,461.73 A86.8,86.8 0 0 1 354.26,457.3"/>
<path d="M351.99,456.46 A86.8,86.8 0 0 1 319.57,434.43"/>
<path d="M317.95,432.63 A86.8,86.8 0 0 1 299.48,398.07"/>
<path d="M298.89,395.72 A86.8,86.8 0 0 1 298.6,356.53"/>
<path d="M299.16,354.17 A86.8,86.8 0 0 1 317.12,319.34"/>
<path d="M318.71,317.51 A86.8,86.8 0 0 1 350.79,295.02"/>
<path d="M353.05,294.14 A86.8,86.8 0 0 1 391.92,289.13"/>
</g>
<path d="M489.45,378.79 A106.2,106.2 0 0 1 486.53,400.43 L468.74,396.13 A87.9,87.9 0 0 0 471.16,378.23Z" fill="#1fa37a"/>
<path d="M485.27,400.13 A104.9,104.9 0 0 1 477.84,420.95 L462.52,413.59 A87.9,87.9 0 0 0 468.74,396.13Z" fill="#ee1e8c"/>
<path d="M393.01,465.68 A90.7,90.7 0 0 1 373.11,465.63 L373.42,462.84 A87.9,87.9 0 0 0 392.71,462.89Z" fill="#1fa37a"/>
<path d="M373.08,465.82 A90.9,90.9 0 0 1 353.63,461.42 L354.6,458.58 A87.9,87.9 0 0 0 373.42,462.84Z" fill="#d81f7f"/>
<path d="M296.38,396 A89.3,89.3 0 0 1 294,376.23 L295.4,376.22 A87.9,87.9 0 0 0 297.75,395.68Z" fill="#1f9a8a"/>
<path d="M293.8,376.23 A89.5,89.5 0 0 1 295.86,356.39 L297.43,356.73 A87.9,87.9 0 0 0 295.4,376.22Z" fill="#c0287a"/>
<path d="M331.86,302.26 A89.5,89.5 0 0 1 349.36,292.68 L349.97,294.17 A87.9,87.9 0 0 0 332.78,303.57Z" fill="#c8287a"/>
<path d="M461.6,417.6 A88.9,88.9 0 0 1 450.32,433.9 L449.57,433.25 A87.9,87.9 0 0 0 460.72,417.13Z" fill="#3a6a70"/>
<path d="M370.05,315.75 Q383.3,375.5 382.23,314.31" fill="none" stroke="#cfcfcf" stroke-width="1"/>
<path d="M343.15,329.31 Q383.3,375.5 353.63,321.97" fill="none" stroke="#cfcfcf" stroke-width="1"/>
<path d="M325.79,354.57 Q383.3,375.5 331.4,343.07" fill="none" stroke="#cfcfcf" stroke-width="1"/>
<path d="M322.7,384.02 Q383.3,375.5 322.25,371.23" fill="none" stroke="#cfcfcf" stroke-width="1"/>
<path d="M330.3,406.1 Q383.3,375.5 325.1,394.41" fill="none" stroke="#cfcfcf" stroke-width="1"/>
<path d="M348.2,425.63 Q383.3,375.5 341.56,420.26" fill="none" stroke="#cfcfcf" stroke-width="0.8"/>
<path d="M432.81,411.47 Q383.3,375.5 424.25,420.98" fill="none" stroke="#cfcfcf" stroke-width="1"/>
<path d="M413.9,428.5 Q383.3,375.5 408.19,431.41" fill="none" stroke="#cfcfcf" stroke-width="0.8"/>
<path d="M442.81,389.79 Q383.3,375.5 440.44,397.43" fill="none" stroke="#cfcfcf" stroke-width="3"/>
<path d="M399.14,316.39 Q383.3,375.5 370.47,435.34" fill="none" stroke="#2f7fb8" stroke-width="1"/>
<path d="M370.47,435.34 L369.7,429.86 L373.42,430.65 Z" fill="#2f7fb8"/>
<path d="M381.7,436.68 Q383.3,375.5 441.06,395.73" fill="none" stroke="#2f7fb8" stroke-width="1"/>
<path d="M441.06,395.73 L435.52,395.8 L436.78,392.22 Z" fill="#2f7fb8"/>
<path d="M443.98,383.49 Q383.3,375.5 354,321.77" fill="none" stroke="#d01c2a" stroke-width="1.1"/>
<path d="M354,321.77 L358.16,325.42 L354.83,327.24 Z" fill="#d01c2a"/>
<path d="M444.11,382.43 Q383.3,375.5 322.31,370.49" fill="none" stroke="#d01c2a" stroke-width="1.1"/>
<path d="M322.31,370.49 L327.64,369.02 L327.33,372.81 Z" fill="#d01c2a"/>
<path d="M383.3,436.7 Q383.3,375.5 433.37,340.31" fill="none" stroke="#d01c2a" stroke-width="1.1"/>
<path d="M433.37,340.31 L430.21,344.85 L428.02,341.75 Z" fill="#d01c2a"/>
<path d="M443.98,383.49 Q383.3,375.5 444.02,367.83" fill="none" stroke="#d01c2a" stroke-width="1.1"/>
<path d="M444.02,367.83 L439.1,370.37 L438.62,366.6 Z" fill="#d01c2a"/>
<path d="M444.04,382.96 Q383.3,375.5 344.54,422.86" fill="none" stroke="#d01c2a" stroke-width="1.1"/>
<path d="M344.54,422.86 L346.36,417.63 L349.3,420.04 Z" fill="#d01c2a"/>
<path d="M443.98,383.49 Q383.3,375.5 398.73,434.72" fill="none" stroke="#d01c2a" stroke-width="1.1"/>
<path d="M398.73,434.72 L395.58,430.17 L399.25,429.21 Z" fill="#d01c2a"/>
<path d="M380.31,436.63 Q383.3,375.5 444.04,382.96" fill="none" stroke="#d01c2a" stroke-width="1.1"/>
<path d="M378.71,436.53 Q383.3,375.5 444.16,381.9" fill="none" stroke="#d01c2a" stroke-width="1.1"/>
<text x="292" y="256.8" font-size="8.2" text-anchor="middle" fill="#222" stroke="#222" stroke-width="0.12">SEGMENTS:</text>
<text x="292" y="266.8" font-size="8.2" text-anchor="middle" fill="#222" stroke="#222" stroke-width="0.12">Number of</text>
<text x="292" y="275.6" font-size="8.2" text-anchor="middle" fill="#222" stroke="#222" stroke-width="0.12">mutations</text>
<rect x="290.2" y="280.8" width="3" height="3" fill="#e0e6b4" stroke="#555" stroke-width="0.7"/>
<text x="296.8" y="284.8" font-size="7" fill="#222" stroke="#222" stroke-width="0.12">0</text>
<rect x="290.2" y="287.9" width="3" height="3" fill="#e6c53c" stroke="#555" stroke-width="0.7"/>
<text x="296.8" y="291.9" font-size="7" fill="#222" stroke="#222" stroke-width="0.12">1</text>
<rect x="290.2" y="295" width="3" height="3" fill="#eca826" stroke="#555" stroke-width="0.7"/>
<text x="296.8" y="299" font-size="7" fill="#222" stroke="#222" stroke-width="0.12">2</text>
<text x="443" y="257" font-size="8.5" fill="#222" stroke="#222" stroke-width="0.12">LINKS: Patients with</text>
<text x="443" y="266.6" font-size="8.5" fill="#222" stroke="#222" stroke-width="0.12">change on treatment</text>
<line x1="442.7" x2="451.3" y1="275.6" y2="275.6" stroke="#c8283a" stroke-width="1.2"/>
<text x="455" y="278.1" font-size="7" fill="#222" stroke="#222" stroke-width="0.12">Acquired muts</text>
<line x1="442.7" x2="451.3" y1="282.65" y2="282.65" stroke="#2f8fb0" stroke-width="1.2"/>
<text x="455" y="285.15" font-size="7" fill="#222" stroke="#222" stroke-width="0.12">Lost muts</text>
<line x1="442.7" x2="451.3" y1="289.7" y2="289.7" stroke="#9a4aa8" stroke-width="1.2"/>
<text x="455" y="292.2" font-size="7" fill="#222" stroke="#222" stroke-width="0.12">Acquired and lost</text>
<line x1="442.7" x2="451.3" y1="296.75" y2="296.75" stroke="#dcdcdc" stroke-width="1.2"/>
<text x="455" y="299.25" font-size="7" fill="#222" stroke="#222" stroke-width="0.12">No change</text>
<rect x="425.2" y="473.1" width="3.4" height="3.4" fill="#1fa37a" stroke="#333" stroke-width="0.5"/>
<rect x="425.2" y="480.1" width="3.4" height="3.4" fill="#b0205a" stroke="#333" stroke-width="0.5"/>
<text x="431.6" y="477" font-size="7" fill="#222" stroke="#222" stroke-width="0.12">Number of patients at D1</text>
<text x="431.6" y="484" font-size="7" fill="#222" stroke="#222" stroke-width="0.12">Number of patients at EOT</text>
<path d="M383.5,541.9 A83.6,83.6 0 1 1 383.49,541.9 L383.49,552.3 A73.2,73.2 0 1 0 383.5,552.3Z" fill="#e3e3e6"/>
<path d="M383.5,552.9 A72.6,72.6 0 0 1 399.66,554.72 L397.21,565.44 A61.6,61.6 0 0 0 383.5,563.9Z" fill="#ec8a30"/>
<path d="M399.66,554.72 A72.6,72.6 0 0 1 415,560.09 L410.23,570 A61.6,61.6 0 0 0 397.21,565.44Z" fill="#ec8a30"/>
<path d="M415,560.09 A72.6,72.6 0 0 1 428.77,568.74 L421.91,577.34 A61.6,61.6 0 0 0 410.23,570Z" fill="#ec8a30"/>
<path d="M428.77,568.74 A72.6,72.6 0 0 1 440.26,580.23 L431.66,587.09 A61.6,61.6 0 0 0 421.91,577.34Z" fill="#ec8a30"/>
<path d="M440.26,580.23 A72.6,72.6 0 0 1 448.91,594 L439,598.77 A61.6,61.6 0 0 0 431.66,587.09Z" fill="#e6674a"/>
<path d="M448.91,594 A72.6,72.6 0 0 1 454.28,609.34 L443.56,611.79 A61.6,61.6 0 0 0 439,598.77Z" fill="#e6674a"/>
<path d="M454.28,609.34 A72.6,72.6 0 0 1 456.1,625.5 L445.1,625.5 A61.6,61.6 0 0 0 443.56,611.79Z" fill="#e6674a"/>
<path d="M456.1,625.5 A72.6,72.6 0 0 1 454.28,641.66 L443.56,639.21 A61.6,61.6 0 0 0 445.1,625.5Z" fill="#e0e6b4"/>
<path d="M454.28,641.66 A72.6,72.6 0 0 1 448.91,657 L439,652.23 A61.6,61.6 0 0 0 443.56,639.21Z" fill="#e8c53c"/>
<path d="M448.91,657 A72.6,72.6 0 0 1 440.26,670.77 L431.66,663.91 A61.6,61.6 0 0 0 439,652.23Z" fill="#e8c53c"/>
<path d="M440.26,670.77 A72.6,72.6 0 0 1 428.77,682.26 L421.91,673.66 A61.6,61.6 0 0 0 431.66,663.91Z" fill="#e8c53c"/>
<path d="M428.77,682.26 A72.6,72.6 0 0 1 415,690.91 L410.23,681 A61.6,61.6 0 0 0 421.91,673.66Z" fill="#e8c53c"/>
<path d="M415,690.91 A72.6,72.6 0 0 1 399.66,696.28 L397.21,685.56 A61.6,61.6 0 0 0 410.23,681Z" fill="#e8c53c"/>
<path d="M399.66,696.28 A72.6,72.6 0 0 1 383.5,698.1 L383.5,687.1 A61.6,61.6 0 0 0 397.21,685.56Z" fill="#e8c53c"/>
<path d="M383.5,698.1 A72.6,72.6 0 0 1 367.34,696.28 L369.79,685.56 A61.6,61.6 0 0 0 383.5,687.1Z" fill="#e8c53c"/>
<path d="M367.34,696.28 A72.6,72.6 0 0 1 352,690.91 L356.77,681 A61.6,61.6 0 0 0 369.79,685.56Z" fill="#e8c53c"/>
<path d="M352,690.91 A72.6,72.6 0 0 1 338.23,682.26 L345.09,673.66 A61.6,61.6 0 0 0 356.77,681Z" fill="#e8c53c"/>
<path d="M338.23,682.26 A72.6,72.6 0 0 1 326.74,670.77 L335.34,663.91 A61.6,61.6 0 0 0 345.09,673.66Z" fill="#e8c53c"/>
<path d="M326.74,670.77 A72.6,72.6 0 0 1 318.09,657 L328,652.23 A61.6,61.6 0 0 0 335.34,663.91Z" fill="#e8c53c"/>
<path d="M318.09,657 A72.6,72.6 0 0 1 312.72,641.66 L323.44,639.21 A61.6,61.6 0 0 0 328,652.23Z" fill="#eca828"/>
<path d="M312.72,641.66 A72.6,72.6 0 0 1 310.9,625.5 L321.9,625.5 A61.6,61.6 0 0 0 323.44,639.21Z" fill="#eca828"/>
<path d="M310.9,625.5 A72.6,72.6 0 0 1 312.72,609.34 L323.44,611.79 A61.6,61.6 0 0 0 321.9,625.5Z" fill="#eca828"/>
<path d="M312.72,609.34 A72.6,72.6 0 0 1 318.09,594 L328,598.77 A61.6,61.6 0 0 0 323.44,611.79Z" fill="#eca828"/>
<path d="M318.09,594 A72.6,72.6 0 0 1 326.74,580.23 L335.34,587.09 A61.6,61.6 0 0 0 328,598.77Z" fill="#eca828"/>
<path d="M326.74,580.23 A72.6,72.6 0 0 1 338.23,568.74 L345.09,577.34 A61.6,61.6 0 0 0 335.34,587.09Z" fill="#eca828"/>
<path d="M338.23,568.74 A72.6,72.6 0 0 1 352,560.09 L356.77,570 A61.6,61.6 0 0 0 345.09,577.34Z" fill="#eca828"/>
<path d="M352,560.09 A72.6,72.6 0 0 1 367.34,554.72 L369.79,565.44 A61.6,61.6 0 0 0 356.77,570Z" fill="#ec8a30"/>
<path d="M367.34,554.72 A72.6,72.6 0 0 1 383.5,552.9 L383.5,563.9 A61.6,61.6 0 0 0 369.79,565.44Z" fill="#ec8a30"/>
<g stroke="#fdf8dc" stroke-width="1.3">
<line x1="383.5" y1="564.2" x2="383.5" y2="552.6"/>
<line x1="397.14" y1="565.74" x2="399.72" y2="554.43"/>
<line x1="410.1" y1="570.27" x2="415.13" y2="559.82"/>
<line x1="421.72" y1="577.57" x2="428.95" y2="568.5"/>
<line x1="431.43" y1="587.28" x2="440.5" y2="580.05"/>
<line x1="438.73" y1="598.9" x2="449.18" y2="593.87"/>
<line x1="443.26" y1="611.86" x2="454.57" y2="609.28"/>
<line x1="444.8" y1="625.5" x2="456.4" y2="625.5"/>
<line x1="443.26" y1="639.14" x2="454.57" y2="641.72"/>
<line x1="438.73" y1="652.1" x2="449.18" y2="657.13"/>
<line x1="431.43" y1="663.72" x2="440.5" y2="670.95"/>
<line x1="421.72" y1="673.43" x2="428.95" y2="682.5"/>
<line x1="410.1" y1="680.73" x2="415.13" y2="691.18"/>
<line x1="397.14" y1="685.26" x2="399.72" y2="696.57"/>
<line x1="383.5" y1="686.8" x2="383.5" y2="698.4"/>
<line x1="369.86" y1="685.26" x2="367.28" y2="696.57"/>
<line x1="356.9" y1="680.73" x2="351.87" y2="691.18"/>
<line x1="345.28" y1="673.43" x2="338.05" y2="682.5"/>
<line x1="335.57" y1="663.72" x2="326.5" y2="670.95"/>
<line x1="328.27" y1="652.1" x2="317.82" y2="657.13"/>
<line x1="323.74" y1="639.14" x2="312.43" y2="641.72"/>
<line x1="322.2" y1="625.5" x2="310.6" y2="625.5"/>
<line x1="323.74" y1="611.86" x2="312.43" y2="609.28"/>
<line x1="328.27" y1="598.9" x2="317.82" y2="593.87"/>
<line x1="335.57" y1="587.28" x2="326.5" y2="580.05"/>
<line x1="345.28" y1="577.57" x2="338.05" y2="568.5"/>
<line x1="356.9" y1="570.27" x2="351.87" y2="559.82"/>
<line x1="369.86" y1="565.74" x2="367.28" y2="554.43"/>
</g>
<g stroke="#f4f4f6" stroke-width="0.7">
<line x1="383.5" y1="552.3" x2="383.5" y2="541.9"/>
<line x1="399.79" y1="554.14" x2="402.1" y2="544"/>
<line x1="415.26" y1="559.55" x2="419.77" y2="550.18"/>
<line x1="429.14" y1="568.27" x2="435.62" y2="560.14"/>
<line x1="440.73" y1="579.86" x2="448.86" y2="573.38"/>
<line x1="449.45" y1="593.74" x2="458.82" y2="589.23"/>
<line x1="454.86" y1="609.21" x2="465" y2="606.9"/>
<line x1="456.7" y1="625.5" x2="467.1" y2="625.5"/>
<line x1="454.86" y1="641.79" x2="465" y2="644.1"/>
<line x1="449.45" y1="657.26" x2="458.82" y2="661.77"/>
<line x1="440.73" y1="671.14" x2="448.86" y2="677.62"/>
<line x1="429.14" y1="682.73" x2="435.62" y2="690.86"/>
<line x1="415.26" y1="691.45" x2="419.77" y2="700.82"/>
<line x1="399.79" y1="696.86" x2="402.1" y2="707"/>
<line x1="383.5" y1="698.7" x2="383.5" y2="709.1"/>
<line x1="367.21" y1="696.86" x2="364.9" y2="707"/>
<line x1="351.74" y1="691.45" x2="347.23" y2="700.82"/>
<line x1="337.86" y1="682.73" x2="331.38" y2="690.86"/>
<line x1="326.27" y1="671.14" x2="318.14" y2="677.62"/>
<line x1="317.55" y1="657.26" x2="308.18" y2="661.77"/>
<line x1="312.14" y1="641.79" x2="302" y2="644.1"/>
<line x1="310.3" y1="625.5" x2="299.9" y2="625.5"/>
<line x1="312.14" y1="609.21" x2="302" y2="606.9"/>
<line x1="317.55" y1="593.74" x2="308.18" y2="589.23"/>
<line x1="326.27" y1="579.86" x2="318.14" y2="573.38"/>
<line x1="337.86" y1="568.27" x2="331.38" y2="560.14"/>
<line x1="351.74" y1="559.55" x2="347.23" y2="550.18"/>
<line x1="367.21" y1="554.14" x2="364.9" y2="544"/>
</g>
<line x1="315.14" y1="595.63" x2="308.17" y2="592.59" stroke="#c23848" stroke-width="1.1"/>
<line x1="318.25" y1="589.33" x2="311.61" y2="585.65" stroke="#c23848" stroke-width="1.1"/>
<line x1="322.99" y1="581.86" x2="316.83" y2="577.42" stroke="#3a68a8" stroke-width="1.1"/>
<line x1="327.46" y1="576.26" x2="321.75" y2="571.25" stroke="#a0604a" stroke-width="1.1"/>
<line x1="332.72" y1="570.85" x2="327.54" y2="565.28" stroke="#3a68a8" stroke-width="1.1"/>
<line x1="339.44" y1="565.3" x2="334.95" y2="559.17" stroke="#c23848" stroke-width="1.1"/>
<line x1="346.77" y1="560.57" x2="343.02" y2="553.96" stroke="#d08aa8" stroke-width="1.1"/>
<line x1="354.35" y1="556.83" x2="351.38" y2="549.83" stroke="#d08aa8" stroke-width="1.1"/>
<line x1="359.34" y1="554.92" x2="356.87" y2="547.73" stroke="#3a68a8" stroke-width="1.1"/>
<line x1="361.07" y1="554.35" x2="358.78" y2="547.1" stroke="#3a68a8" stroke-width="1.1"/>
<line x1="369.27" y1="552.27" x2="367.82" y2="544.81" stroke="#c23848" stroke-width="1.1"/>
<line x1="373.38" y1="551.59" x2="372.34" y2="544.06" stroke="#5a9a58" stroke-width="1.1"/>
<line x1="379.34" y1="551.02" x2="378.91" y2="543.43" stroke="#3a68a8" stroke-width="1.1"/>
<line x1="385.84" y1="550.94" x2="386.08" y2="543.34" stroke="#8a4aa0" stroke-width="1.1"/>
<line x1="390" y1="551.18" x2="390.66" y2="543.61" stroke="#5a9a58" stroke-width="1.1"/>
<line x1="397.86" y1="552.3" x2="399.33" y2="544.84" stroke="#8a4aa0" stroke-width="1.1"/>
<line x1="402.93" y1="553.48" x2="404.91" y2="546.14" stroke="#d8863a" stroke-width="1.1"/>
<line x1="412.05" y1="556.58" x2="414.96" y2="549.56" stroke="#c23848" stroke-width="1.1"/>
<line x1="418.98" y1="559.88" x2="422.6" y2="553.19" stroke="#3a68a8" stroke-width="1.1"/>
<line x1="426.93" y1="564.84" x2="431.35" y2="558.66" stroke="#c23848" stroke-width="1.1"/>
<line x1="432.25" y1="569.03" x2="437.21" y2="563.28" stroke="#3a68a8" stroke-width="1.1"/>
<line x1="437.16" y1="573.68" x2="442.63" y2="568.4" stroke="#8a4aa0" stroke-width="1.1"/>
<line x1="443.08" y1="580.6" x2="449.15" y2="576.03" stroke="#c23848" stroke-width="1.1"/>
<line x1="446.97" y1="586.3" x2="453.44" y2="582.31" stroke="#3a8a9a" stroke-width="1.1"/>
<line x1="449.37" y1="590.48" x2="456.08" y2="586.91" stroke="#8a4aa0" stroke-width="1.1"/>
<line x1="451.7" y1="595.28" x2="458.65" y2="592.2" stroke="#8a4aa0" stroke-width="1.1"/>
<line x1="454.84" y1="603.69" x2="462.11" y2="601.47" stroke="#d8863a" stroke-width="1.1"/>
<line x1="456.92" y1="612.29" x2="464.4" y2="610.94" stroke="#3a68a8" stroke-width="1.1"/>
<line x1="457.82" y1="619" x2="465.39" y2="618.34" stroke="#8a4aa0" stroke-width="1.1"/>
<line x1="454.45" y1="648.55" x2="461.68" y2="650.9" stroke="#8a4aa0" stroke-width="1.1"/>
<line x1="451.11" y1="657.03" x2="458" y2="660.24" stroke="#3a8a9a" stroke-width="1.1"/>
<line x1="446.76" y1="665.03" x2="453.21" y2="669.06" stroke="#3a68a8" stroke-width="1.1"/>
<line x1="441.88" y1="671.94" x2="447.83" y2="676.67" stroke="#34408a" stroke-width="1.1"/>
<line x1="435.32" y1="679.16" x2="440.6" y2="684.63" stroke="#34408a" stroke-width="1.1"/>
<line x1="426.29" y1="686.61" x2="430.65" y2="692.83" stroke="#3a68a8" stroke-width="1.1"/>
<line x1="412.65" y1="694.17" x2="415.62" y2="701.17" stroke="#8ab8d0" stroke-width="1.1"/>
<line x1="399.01" y1="698.47" x2="400.59" y2="705.9" stroke="#3a8a9a" stroke-width="1.1"/>
<line x1="383.5" y1="700.1" x2="383.5" y2="707.7" stroke="#8ab8d0" stroke-width="1.1"/>
<line x1="367.99" y1="698.47" x2="366.41" y2="705.9" stroke="#c8c070" stroke-width="1.1"/>
<line x1="351.97" y1="693.11" x2="348.76" y2="700" stroke="#c8c070" stroke-width="1.1"/>
<line x1="343.97" y1="688.76" x2="339.94" y2="695.21" stroke="#d08aa8" stroke-width="1.1"/>
<line x1="335.55" y1="682.65" x2="330.66" y2="688.47" stroke="#3a8a9a" stroke-width="1.1"/>
<line x1="324" y1="670.5" x2="317.94" y2="675.08" stroke="#c23848" stroke-width="1.1"/>
<line x1="315.89" y1="657.03" x2="309" y2="660.24" stroke="#3a8a9a" stroke-width="1.1"/>
<line x1="311.61" y1="645.44" x2="304.29" y2="647.47" stroke="#8a4aa0" stroke-width="1.1"/>
<line x1="310.15" y1="639.09" x2="302.68" y2="640.48" stroke="#c23848" stroke-width="1.1"/>
<line x1="309" y1="629.4" x2="301.41" y2="629.8" stroke="#8a4aa0" stroke-width="1.1"/>
<line x1="308.98" y1="621.99" x2="301.39" y2="621.63" stroke="#a0604a" stroke-width="1.1"/>
<line x1="309.2" y1="618.87" x2="301.63" y2="618.19" stroke="#5a9a58" stroke-width="1.1"/>
<line x1="311.51" y1="605.94" x2="304.18" y2="603.95" stroke="#c23848" stroke-width="1.1"/>
<line x1="313.85" y1="598.77" x2="306.76" y2="596.04" stroke="#d08aa8" stroke-width="1.1"/>
<g fill="none" stroke="#cdc4d4" stroke-width="0.8">
<path d="M384.71,538.71 A86.8,86.8 0 0 1 401.63,540.61"/>
<path d="M403.99,541.15 A86.8,86.8 0 0 1 420.07,546.78"/>
<path d="M422.25,547.83 A86.8,86.8 0 0 1 436.67,556.89"/>
<path d="M438.56,558.4 A86.8,86.8 0 0 1 450.6,570.44"/>
<path d="M452.11,572.33 A86.8,86.8 0 0 1 461.17,586.75"/>
<path d="M462.22,588.93 A86.8,86.8 0 0 1 467.85,605.01"/>
<path d="M468.39,607.37 A86.8,86.8 0 0 1 470.29,624.29"/>
<path d="M470.29,626.71 A86.8,86.8 0 0 1 468.39,643.63"/>
<path d="M467.85,645.99 A86.8,86.8 0 0 1 462.22,662.07"/>
<path d="M461.17,664.25 A86.8,86.8 0 0 1 452.11,678.67"/>
<path d="M450.6,680.56 A86.8,86.8 0 0 1 438.56,692.6"/>
<path d="M436.67,694.11 A86.8,86.8 0 0 1 422.25,703.17"/>
<path d="M420.07,704.22 A86.8,86.8 0 0 1 403.99,709.85"/>
<path d="M401.63,710.39 A86.8,86.8 0 0 1 384.71,712.29"/>
<path d="M382.29,712.29 A86.8,86.8 0 0 1 365.37,710.39"/>
<path d="M363.01,709.85 A86.8,86.8 0 0 1 346.93,704.22"/>
<path d="M344.75,703.17 A86.8,86.8 0 0 1 330.33,694.11"/>
<path d="M328.44,692.6 A86.8,86.8 0 0 1 316.4,680.56"/>
<path d="M314.89,678.67 A86.8,86.8 0 0 1 305.83,664.25"/>
<path d="M304.78,662.07 A86.8,86.8 0 0 1 299.15,645.99"/>
<path d="M298.61,643.63 A86.8,86.8 0 0 1 296.71,626.71"/>
<path d="M296.71,624.29 A86.8,86.8 0 0 1 298.61,607.37"/>
<path d="M299.15,605.01 A86.8,86.8 0 0 1 304.78,588.93"/>
<path d="M305.83,586.75 A86.8,86.8 0 0 1 314.89,572.33"/>
<path d="M316.4,570.44 A86.8,86.8 0 0 1 328.44,558.4"/>
<path d="M330.33,556.89 A86.8,86.8 0 0 1 344.75,547.83"/>
<path d="M346.93,546.78 A86.8,86.8 0 0 1 363.01,541.15"/>
<path d="M365.37,540.61 A86.8,86.8 0 0 1 382.29,538.71"/>
</g>
<path d="M487.47,627.86 A104,104 0 0 1 486.83,637.27 L469.54,635.3 A86.6,86.6 0 0 0 470.08,627.46Z" fill="#1fa37a"/>
<path d="M485.84,637.16 A103,103 0 0 1 484.54,645.51 L468.45,642.32 A86.6,86.6 0 0 0 469.54,635.3Z" fill="#ee1e8c"/>
<path d="M306.42,670 A89,89 0 0 1 302.19,661.7 L304.39,660.72 A86.6,86.6 0 0 0 308.5,668.8Z" fill="#d81f7f"/>
<path d="M301.58,660.28 A89,89 0 0 1 298.39,651.52 L300.68,650.82 A86.6,86.6 0 0 0 303.78,659.34Z" fill="#1f9a8a"/>
<path d="M297.57,643.54 A87.8,87.8 0 0 1 296.33,635.98 L297.52,635.84 A86.6,86.6 0 0 0 298.75,643.29Z" fill="#c0287a"/>
<path d="M420.21,705.26 A87.8,87.8 0 0 1 413.12,708.15 L412.71,707.02 A86.6,86.6 0 0 0 419.71,704.17Z" fill="#1f9a8a"/>
<path d="M393.22,712.76 A87.8,87.8 0 0 1 384.81,713.29 L384.8,712.09 A86.6,86.6 0 0 0 393.09,711.57Z" fill="#c0287a"/>
<path d="M469.07,646.04 A88,88 0 0 1 466.55,654.59 L465.23,654.12 A86.6,86.6 0 0 0 467.71,645.72Z" fill="#2a7a6a"/>
<path d="M466.55,654.59 A88,88 0 0 1 463.12,662.97 L461.86,662.37 A86.6,86.6 0 0 0 465.23,654.12Z" fill="#c0287a"/>
<path d="M382.43,686.69 Q383.5,625.5 376.04,686.24" fill="none" stroke="#cfcfcf" stroke-width="1"/>
<path d="M373.93,685.95 Q383.5,625.5 368.69,684.88" fill="none" stroke="#cfcfcf" stroke-width="1"/>
<path d="M422.01,673.06 Q383.5,625.5 412.23,679.54" fill="none" stroke="#cfcfcf" stroke-width="1"/>
<path d="M411.28,680.03 Q383.5,625.5 406.43,682.24" fill="none" stroke="#cfcfcf" stroke-width="1"/>
<path d="M338.74,667.24 Q383.5,625.5 335.27,663.18" fill="none" stroke="#cfcfcf" stroke-width="1"/>
<path d="M393.39,685.9 Q383.5,625.5 379.23,564.45" fill="none" stroke="#d01c2a" stroke-width="1"/>
<path d="M379.23,564.45 L381.49,569.5 L377.7,569.77 Z" fill="#d01c2a"/>
<path d="M342.55,670.98 Q383.5,625.5 391.81,564.87" fill="none" stroke="#d01c2a" stroke-width="1"/>
<path d="M391.81,564.87 L392.98,570.28 L389.22,569.76 Z" fill="#d01c2a"/>
<path d="M353.36,572.23 Q383.5,625.5 418.34,575.18" fill="none" stroke="#d01c2a" stroke-width="1"/>
<path d="M418.34,575.18 L416.94,580.54 L413.82,578.38 Z" fill="#d01c2a"/>
<path d="M353.36,572.23 L357.58,575.82 L354.27,577.7 Z" fill="#d01c2a"/>
<path d="M444.59,629.24 Q383.5,625.5 326.36,603.57" fill="none" stroke="#d01c2a" stroke-width="1.6"/>
<path d="M326.36,603.57 L331.9,603.66 L330.54,607.21 Z" fill="#d01c2a"/>
<path d="M444.62,628.7 Q383.5,625.5 322.81,617.62" fill="none" stroke="#d01c2a" stroke-width="1.6"/>
<path d="M322.81,617.62 L328.21,616.4 L327.72,620.17 Z" fill="#d01c2a"/>
<path d="M444.55,629.77 Q383.5,625.5 322.45,629.77" fill="none" stroke="#d01c2a" stroke-width="1"/>
<path d="M322.45,629.77 L327.5,627.51 L327.77,631.3 Z" fill="#d01c2a"/>
<path d="M322.53,630.83 Q383.5,625.5 338.31,666.77" fill="none" stroke="#d01c2a" stroke-width="1"/>
<path d="M338.31,666.77 L340.87,661.86 L343.43,664.66 Z" fill="#d01c2a"/>
<path d="M335.27,663.18 Q383.5,625.5 428.69,584.23" fill="none" stroke="#d01c2a" stroke-width="1"/>
<path d="M428.69,584.23 L426.13,589.14 L423.57,586.34 Z" fill="#d01c2a"/>
<path d="M444.66,627.64 Q383.5,625.5 436.77,595.36" fill="none" stroke="#d01c2a" stroke-width="1"/>
<path d="M436.77,595.36 L433.18,599.58 L431.3,596.27 Z" fill="#d01c2a"/>
<path d="M444.42,631.37 Q383.5,625.5 440.4,648.03" fill="none" stroke="#d01c2a" stroke-width="1"/>
<path d="M440.4,648.03 L434.87,647.88 L436.27,644.35 Z" fill="#d01c2a"/>
<path d="M444.36,631.9 Q383.5,625.5 434.3,659.63" fill="none" stroke="#d01c2a" stroke-width="1"/>
<path d="M434.3,659.63 L428.92,658.31 L431.04,655.16 Z" fill="#d01c2a"/>
<path d="M330.5,594.9 Q383.5,625.5 357.64,680.97" fill="none" stroke="#d01c2a" stroke-width="1"/>
<path d="M444.51,630.3 Q383.5,625.5 330.5,656.1" fill="none" stroke="#d01c2a" stroke-width="1"/>
<path d="M444.64,628.17 Q383.5,625.5 342.55,580.02" fill="none" stroke="#d01c2a" stroke-width="1"/>
<path d="M325.99,646.43 Q383.5,625.5 404.43,567.99" fill="none" stroke="#d01c2a" stroke-width="1"/>
<path d="M444.1,634.02 Q383.5,625.5 332.88,591.1" fill="none" stroke="#2f7fb8" stroke-width="1.5"/>
<path d="M332.88,591.1 L338.25,592.45 L336.12,595.59 Z" fill="#2f7fb8"/>
<path d="M440.48,603.17 Q383.5,625.5 406.03,568.6" fill="none" stroke="#2f7fb8" stroke-width="1"/>
<path d="M406.03,568.6 L405.88,574.13 L402.35,572.73 Z" fill="#2f7fb8"/>
<path d="M400.88,566.82 Q383.5,625.5 444.24,632.96" fill="none" stroke="#2f7fb8" stroke-width="1"/>
<path d="M444.03,634.55 Q383.5,625.5 330.55,656.19" fill="none" stroke="#2f7fb8" stroke-width="1"/>
<path d="M330.55,656.19 L334.1,651.94 L336,655.23 Z" fill="#2f7fb8"/>
<path d="M326.8,648.52 Q383.5,625.5 443.95,635.07" fill="none" stroke="#2f7fb8" stroke-width="1"/>
<path d="M443.95,635.07 L438.51,636.14 L439.11,632.38 Z" fill="#2f7fb8"/>
<path d="M365.61,684.03 Q383.5,625.5 443.86,635.6" fill="none" stroke="#2f7fb8" stroke-width="1"/>
<path d="M443.86,635.6 L438.42,636.62 L439.05,632.87 Z" fill="#2f7fb8"/>
<path d="M443.81,615.08 Q383.5,625.5 324.67,608.63" fill="none" stroke="#2f7fb8" stroke-width="1"/>
<path d="M336.62,586.16 Q383.5,625.5 444.18,633.49" fill="none" stroke="#2f7fb8" stroke-width="1.5"/>
<path d="M323.42,637.18 Q383.5,625.5 444.03,634.55" fill="none" stroke="#2f7fb8" stroke-width="1"/>
<path d="M428.26,667.24 Q383.5,625.5 348.4,675.63" fill="none" stroke="#2f7fb8" stroke-width="1"/>
<path d="M431.33,663.68 Q383.5,625.5 322.9,634.02" fill="none" stroke="#2f7fb8" stroke-width="1"/>
<path d="M340.23,582.23 Q383.5,625.5 414.1,678.5" fill="none" stroke="#2f7fb8" stroke-width="1"/>
<path d="M323.42,613.82 Q383.5,625.5 444.1,634.02" fill="none" stroke="#2f7fb8" stroke-width="1"/>
<path d="M409.36,570.03 Q383.5,625.5 378.17,686.47" fill="none" stroke="#2f7fb8" stroke-width="1"/>
<path d="M444.31,632.43 Q383.5,625.5 349.19,676.18" fill="none" stroke="#9a4aa8" stroke-width="1"/>
<path d="M349.19,676.18 L350.53,670.81 L353.68,672.94 Z" fill="#9a4aa8"/>
<path d="M444.24,632.96 Q383.5,625.5 401.7,683.93" fill="none" stroke="#9a4aa8" stroke-width="1"/>
<path d="M401.7,683.93 L398.34,679.53 L401.97,678.4 Z" fill="#9a4aa8"/>
<path d="M362.57,567.99 Q383.5,625.5 376.04,686.24" fill="none" stroke="#9a4aa8" stroke-width="1"/>
<text x="292" y="506.4" font-size="8.2" text-anchor="middle" fill="#222" stroke="#222" stroke-width="0.12">SEGMENTS:</text>
<text x="292" y="516.4" font-size="8.2" text-anchor="middle" fill="#222" stroke="#222" stroke-width="0.12">Number of</text>
<text x="292" y="525.2" font-size="8.2" text-anchor="middle" fill="#222" stroke="#222" stroke-width="0.12">mutations</text>
<rect x="290.2" y="531.5" width="3" height="3" fill="#e0e6b4" stroke="#555" stroke-width="0.7"/>
<text x="296.8" y="535.5" font-size="7" fill="#222" stroke="#222" stroke-width="0.12">0</text>
<rect x="290.2" y="538.45" width="3" height="3" fill="#e8c53c" stroke="#555" stroke-width="0.7"/>
<text x="296.8" y="542.45" font-size="7" fill="#222" stroke="#222" stroke-width="0.12">1</text>
<rect x="290.2" y="545.4" width="3" height="3" fill="#eca828" stroke="#555" stroke-width="0.7"/>
<text x="296.8" y="549.4" font-size="7" fill="#222" stroke="#222" stroke-width="0.12">2</text>
<rect x="290.2" y="552.35" width="3" height="3" fill="#ec8a30" stroke="#555" stroke-width="0.7"/>
<text x="296.8" y="556.35" font-size="7" fill="#222" stroke="#222" stroke-width="0.12">3</text>
<rect x="290.2" y="559.3" width="3" height="3" fill="#e6674a" stroke="#555" stroke-width="0.7"/>
<text x="296.8" y="563.3" font-size="7" fill="#222" stroke="#222" stroke-width="0.12">4</text>
<text x="443" y="506.2" font-size="8.5" fill="#222" stroke="#222" stroke-width="0.12">LINKS: Patients with</text>
<text x="443" y="515.8" font-size="8.5" fill="#222" stroke="#222" stroke-width="0.12">change on treatment</text>
<line x1="442.7" x2="451.3" y1="524.8" y2="524.8" stroke="#c8283a" stroke-width="1.2"/>
<text x="455" y="527.3" font-size="7" fill="#222" stroke="#222" stroke-width="0.12">Acquired muts</text>
<line x1="442.7" x2="451.3" y1="531.85" y2="531.85" stroke="#2f8fb0" stroke-width="1.2"/>
<text x="455" y="534.35" font-size="7" fill="#222" stroke="#222" stroke-width="0.12">Lost muts</text>
<line x1="442.7" x2="451.3" y1="538.9" y2="538.9" stroke="#9a4aa8" stroke-width="1.2"/>
<text x="455" y="541.4" font-size="7" fill="#222" stroke="#222" stroke-width="0.12">Acquired and lost</text>
<line x1="442.7" x2="451.3" y1="545.95" y2="545.95" stroke="#dcdcdc" stroke-width="1.2"/>
<text x="455" y="548.45" font-size="7" fill="#222" stroke="#222" stroke-width="0.12">No change</text>
<rect x="425.2" y="722.1" width="3.4" height="3.4" fill="#1fa37a" stroke="#333" stroke-width="0.5"/>
<rect x="425.2" y="730.1" width="3.4" height="3.4" fill="#b0205a" stroke="#333" stroke-width="0.5"/>
<text x="431.6" y="726" font-size="7" fill="#222" stroke="#222" stroke-width="0.12">Number of patients at D1</text>
<text x="431.6" y="734" font-size="7" fill="#222" stroke="#222" stroke-width="0.12">Number of patients at EOT</text>
</svg>
</body></html>
